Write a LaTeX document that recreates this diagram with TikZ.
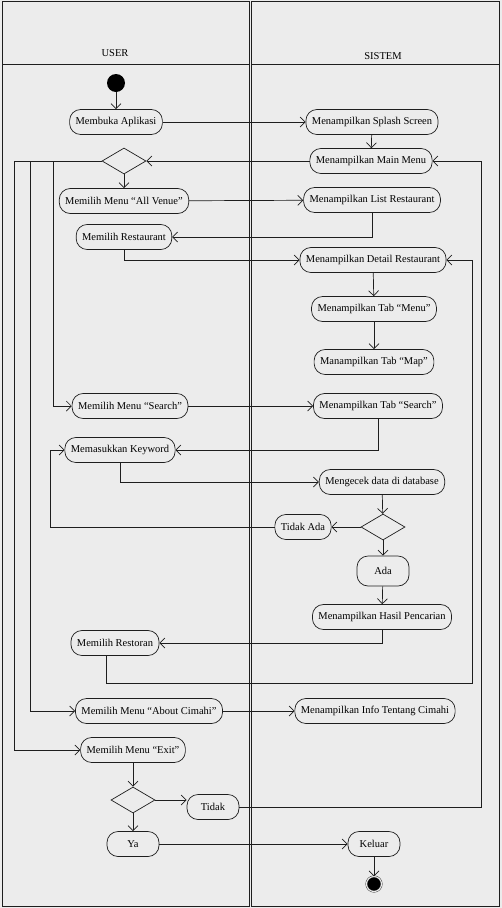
\documentclass[tikz,border=0pt]{standalone}
\usepackage{fontspec}
\setmainfont{Liberation Serif}
\usetikzlibrary{arrows.meta,shapes.geometric}
\definecolor{paper}{RGB}{236,236,236}
\definecolor{ink}{RGB}{30,30,30}
\begin{document}
\begin{tikzpicture}[x=1pt,y=-1pt,
    font=\fontsize{10.5}{12}\selectfont,
    act/.style={draw=ink,line width=0.7pt,rectangle,rounded corners=11pt,minimum height=25pt,minimum width=52pt,inner xsep=6pt},
    dec/.style={draw=ink,line width=0.7pt,diamond,minimum width=44pt,minimum height=26pt,inner sep=0pt},
    startnode/.style={circle,fill=black,minimum size=18pt,inner sep=0pt},
    endnode/.style={circle,fill=black,draw=ink,double=paper,double distance=1.2pt,minimum size=15pt,inner sep=0pt},
    flow/.style={draw=ink,line width=0.7pt,-{Straight Barb[length=5pt,width=10pt]}},
    line/.style={draw=ink,line width=0.7pt},
    lane/.style={draw=ink,line width=1pt}]
\fill[paper] (0,0) rectangle (502,908);
\useasboundingbox (0,0) rectangle (502,908);
\draw[lane] (2,1) rectangle (249,906);
\draw[lane] (251,1) rectangle (499,906);
\draw[lane] (2,64) -- (249,64);
\draw[lane] (251,64) -- (499,64);
\node (user) at (115,53) {USER};
\node (sistem) at (383,56) {SISTEM};

\node[startnode] (st) at (116,83) {};
\node[act] (m1) at (116,122) {Membuka Aplikasi};
\node[act] (s1) at (372,122) {Menampilkan Splash Screen};
\node[act] (s2) at (371,161) {Menampilkan Main Menu};
\node[dec] (d1) at (124,161) {};
\node[act] (m2) at (124,201) {Memilih Menu “All Venue”};
\node[act] (s3) at (372,200) {Menampilkan List Restaurant};
\node[act] (m3) at (124,237) {Memilih Restaurant};
\node[act] (s4) at (373,260) {Menampilkan Detail Restaurant};
\node[act] (s5) at (374,309) {Menampilkan Tab “Menu”};
\node[act] (s6) at (374,362) {Manampilkan Tab “Map”};
\node[act] (m4) at (130,406) {Memilih Menu “Search”};
\node[act] (s7) at (378,406) {Menampilkan Tab “Search”};
\node[act] (m5) at (120,450) {Memasukkan Keyword};
\node[act] (s8) at (382,482) {Mengecek data di database};
\node[dec] (d2) at (383,527) {};
\node[act] (s9) at (303,527) {Tidak Ada};
\node[act,minimum height=30pt] (s10) at (383,571) {Ada};
\node[act] (s11) at (382,617) {Menampilkan Hasil Pencarian};
\node[act] (m6) at (115,643) {Memilih Restoran};
\node[act] (m8) at (149,711) {Memilih Menu “About Cimahi”};
\node[act] (s12) at (375,711) {Menampilkan Info Tentang Cimahi};
\node[act] (m9) at (133,750) {Memilih Menu “Exit”};
\node[dec] (d3) at (133,800) {};
\node[act] (m10) at (213,807) {Tidak};
\node[act] (m11) at (133,844) {Ya};
\node[act] (s13) at (374,844) {Keluar};
\node[endnode] (en) at (374,884) {};

\coordinate (ka) at (53,161);
\coordinate (kb) at (30,161);
\coordinate (kc) at (14,161);
\coordinate (kd) at (50,450);
\coordinate (ke) at (472,683);
\coordinate (kf) at (481,161);

\draw[flow] (st) -- (m1);
\draw[flow] (m1) -- (s1);
\draw[flow] (s1) -- (s2);
\draw[flow] (s2) -- (d1);
\draw[flow] (d1) -- (m2);
\draw[line] (d1.west) -- (kc);
\draw[flow] (ka) |- (m4.west);
\draw[flow] (kb) |- (m8.west);
\draw[flow] (kc) |- (m9.west);
\draw[flow] (m2) -- (s3);
\draw[flow] (s3.south) |- (m3.east);
\draw[flow] (m3.south) |- (s4.west);
\draw[flow] (s4) -- (s5);
\draw[flow] (s5) -- (s6);
\draw[flow] (m4) -- (s7);
\draw[flow] (s7.south) |- (m5.east);
\draw[flow] (m5.south) |- (s8.west);
\draw[flow] (s8) -- (d2);
\draw[flow] (d2) -- (s9);
\draw[flow] (s9.west) -| (kd) -- (m5.west);
\draw[flow] (d2) -- (s10);
\draw[flow] (s10) -- (s11);
\draw[flow] (s11.south) |- (m6.east);
\draw[flow] ([xshift=-9pt]m6.south) |- (ke) |- (s4.east);
\draw[flow] (m8) -- (s12);
\draw[flow] (m9) -- (d3);
\draw[flow] (d3.east) -- (d3.east -| m10.west);
\draw[flow] (m10.east) -| (kf) -- (s2.east);
\draw[flow] (d3) -- (m11);
\draw[flow] (m11) -- (s13);
\draw[flow] (s13) -- (en);
\end{tikzpicture}
\end{document}
